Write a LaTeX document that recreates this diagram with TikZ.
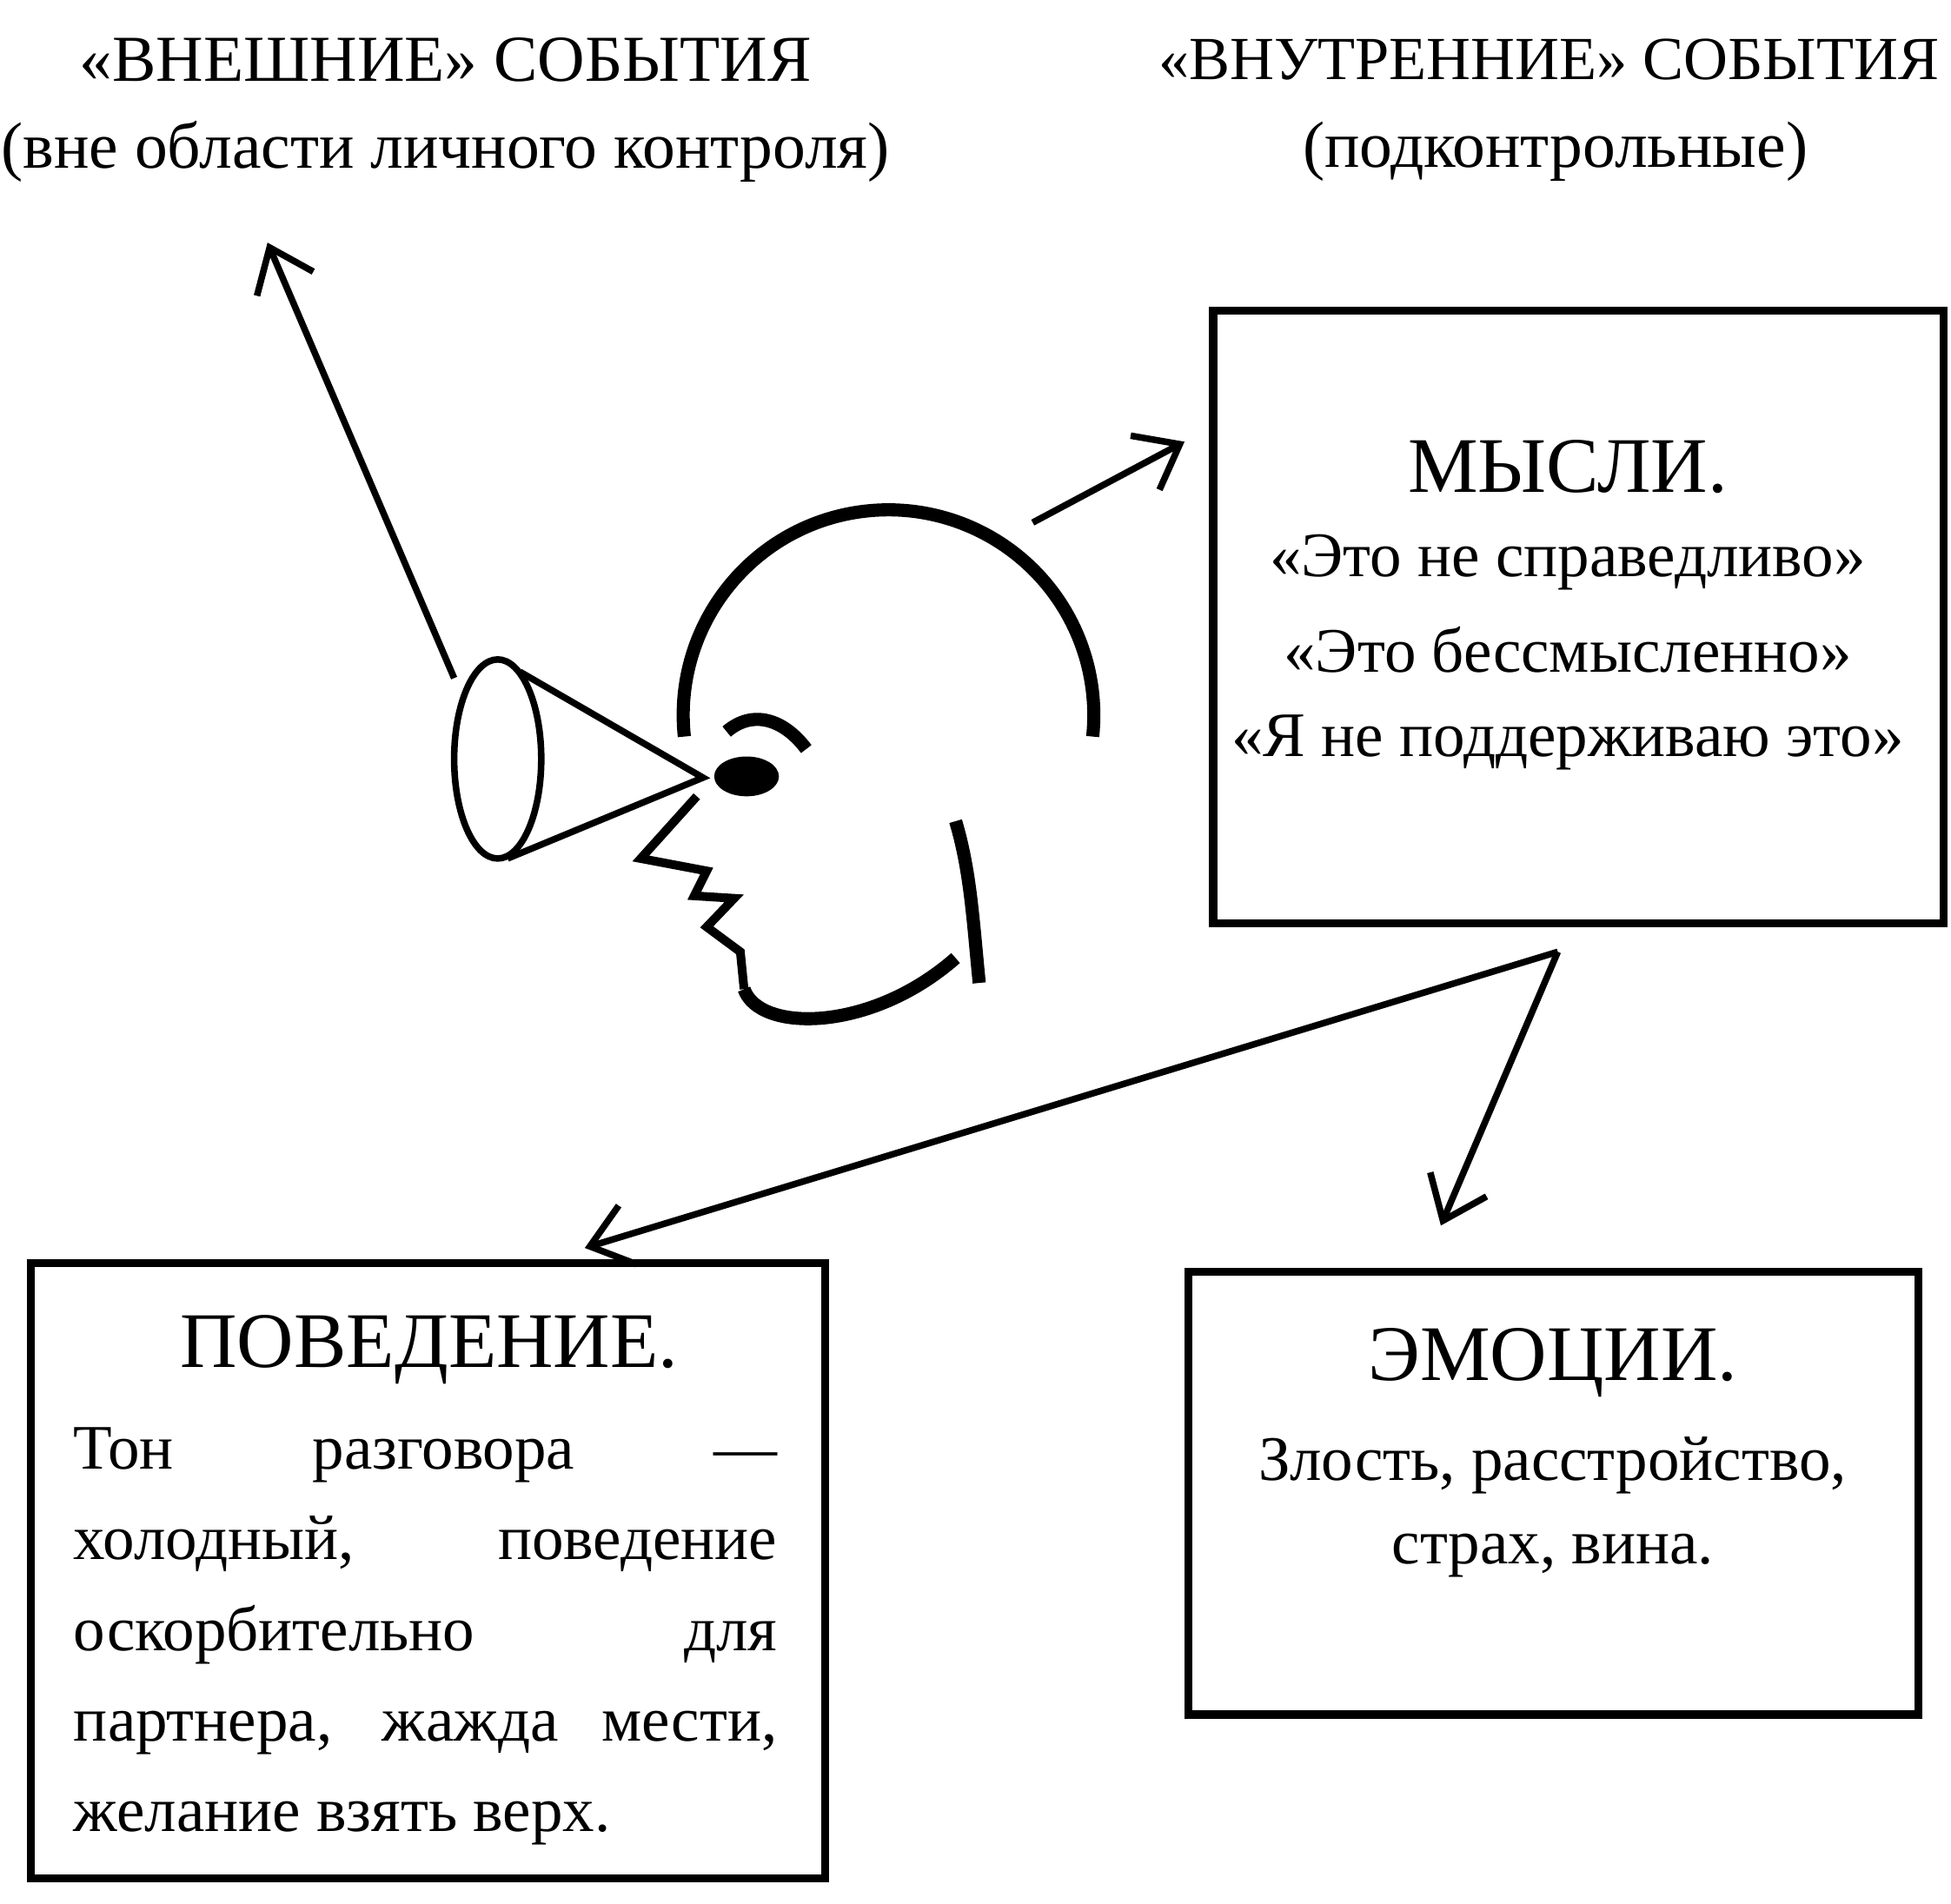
\documentclass[tikz,border=0pt]{standalone}
\usepackage{fontspec}
\setmainfont{Liberation Serif}
\usetikzlibrary{arrows.meta}
\begin{document}
\begin{tikzpicture}[x=0.01cm,y=-0.01cm,
  box/.style={draw,line width=1.8pt},
  arr/.style={line width=1.5pt,-{Straight Barb[length=9pt,width=14pt,line width=1.5pt]}},
  ttl/.style={font=\fontsize{15}{18}\selectfont},
  hd/.style={font=\fontsize{18}{22}\selectfont},
  bt/.style={font=\fontsize{14.5}{19}\selectfont}]
\useasboundingbox (0,0) rectangle (1568,1530);
\node[ttl] (t1) at (358,48) {«ВНЕШНИЕ» СОБЫТИЯ};
\node[ttl] (t2) at (358,122) {(вне области личного контроля)};
\node[ttl,font=\fontsize{14}{18}\selectfont] (t3) at (1245,48) {«ВНУТРЕННИЕ» СОБЫТИЯ};
\node[ttl] (t4) at (1250,122) {(подконтрольные)};
% boxes
\draw[box] (975,250) rectangle (1562,742);
\node[hd] (m) at (1260,375) {МЫСЛИ.};
\node[bt] (m1) at (1260,452) {«Это не справедливо»};
\node[bt] (m2) at (1260,522) {«Это бессмысленно»};
\node[bt] (m3) at (1260,597) {«Я не поддерживаю это»};
\draw[box] (25,1015) rectangle (663,1510);
\node[hd] (p) at (345,1085) {ПОВЕДЕНИЕ.};
\node[text width=5.65cm,align=justify,anchor=north,font=\fontsize{14.5}{20.7}\selectfont] (pt) at (342,1135)
 {Тон разговора — холодный, поведение оскорбительно для партнера, жажда мести, желание взять верх.};
\draw[box] (955,1022) rectangle (1542,1378);
\node[hd] (e) at (1248,1095) {ЭМОЦИИ.};
\node[bt] (e1) at (1248,1178) {Злость, расстройство,};
\node[bt] (e2) at (1248,1250) {страх, вина.};
% arrows
\coordinate (a0) at (365,545); \coordinate (a1) at (215,195);
\coordinate (b0) at (830,420); \coordinate (b1) at (952,355);
\coordinate (c0) at (1252,765); \coordinate (c1) at (470,1003); \coordinate (c2) at (1158,985);
\draw[arr] (a0) -- (a1);
\draw[arr] (b0) -- (b1);
\draw[arr] (c0) -- (c1);
\draw[arr] (c0) -- (c2);
% cone
\draw[line width=1.5pt] (400,610) ellipse [x radius=35, y radius=80];
\coordinate (tip) at (565,625);
\draw[line width=1.5pt] (418,540) -- (tip) -- (408,690);
% head
\draw[line width=3pt] (550,592) arc[start angle=174,end angle=366,radius=165];
\fill (600,624) ellipse [x radius=26, y radius=16];
\draw[line width=3pt] (584,588) .. controls (605,570) and (630,578) .. (648,602);
\draw[line width=2pt] (560,640) -- (515,690) -- (568,700) -- (558,720) -- (590,722) -- (568,745) -- (595,765) -- (598,795);
\draw[line width=3pt] (598,795) .. controls (610,830) and (700,830) .. (768,770);
\draw[line width=3pt] (768,660) .. controls (780,700) and (782,740) .. (787,790);
\end{tikzpicture}
\end{document}
